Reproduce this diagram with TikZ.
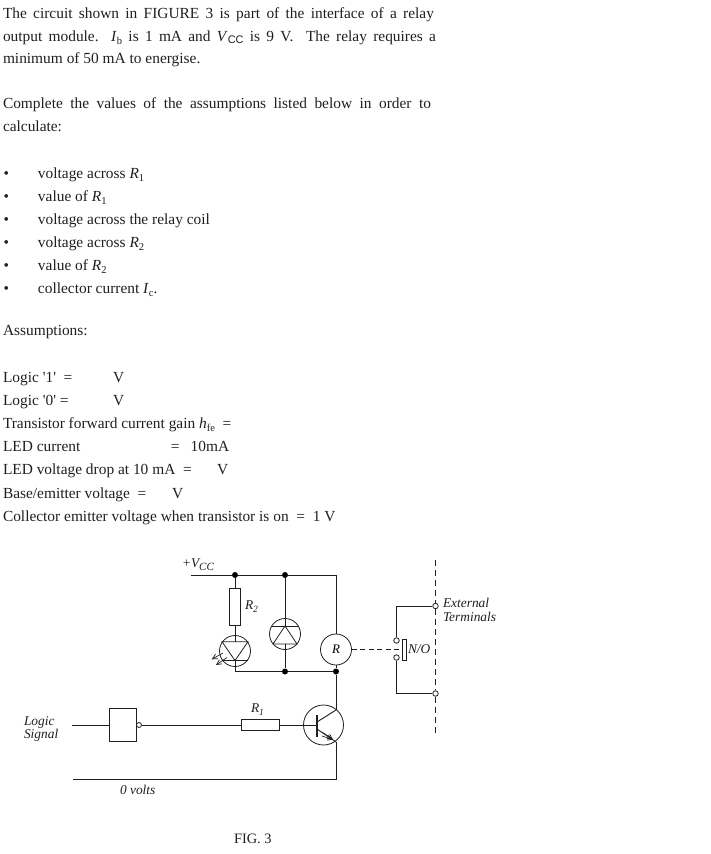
\documentclass[tikz,border=0pt]{standalone}
\usepackage{fontspec}
\setmainfont{Liberation Serif}
\newfontfamily\subsans{Liberation Sans}
\usetikzlibrary{arrows.meta}
\newcommand{\lowit}[2]{\textit{#1}\raisebox{-3pt}{\fontsize{10.5}{10.5}\selectfont #2}}
\newcommand{\lowsans}[2]{\textit{#1}\raisebox{-2.5pt}{\fontsize{11}{11}\selectfont\subsans #2}}
\newcommand{\fullline}[1]{\makebox[431pt][s]{#1}}
\newcommand{\bulletitem}[1]{\makebox[35pt][l]{\hspace{0.5pt}•}#1}
\definecolor{ink}{gray}{0.12}
\tikzset{
  x=1pt,y=-1pt,
  wire/.style={draw=ink,line width=0.9pt},
  txt/.style={anchor=base west,inner sep=0pt,outer sep=0pt,font=\fontsize{15.4}{18}\selectfont,text=ink},
  lab/.style={anchor=base west,inner sep=0pt,outer sep=0pt,font=\fontsize{13.4}{15}\selectfont\itshape,text=ink},
  dot/.style={circle,fill=black,inner sep=0pt,minimum size=6pt},
  term/.style={circle,draw=ink,fill=white,line width=0.8pt,inner sep=0pt,minimum size=5.5pt},
  resbox/.style={rectangle,draw=ink,fill=white,line width=0.9pt,inner sep=0pt},
  ring/.style={circle,draw=ink,line width=0.8pt,inner sep=0pt,minimum size=31pt},
  lightarrow/.style={draw=ink,line width=0.7pt,-{Straight Barb[length=5pt,width=5pt]}},
}
\begin{document}
\begin{tikzpicture}
\useasboundingbox (0,0) rectangle (710,854);
% text
\node[txt] (p1) at (3,18) {\fullline{The circuit shown in FIGURE 3 is part of the interface of a relay}};
\node[txt] (p2) at (3,41) {\makebox[433pt][s]{output module.\ \ \lowit{I}{b} is 1 mA and \lowsans{V}{CC} is 9 V.\ \ The relay requires a}};
\node[txt] (p3) at (3,63) {minimum of 50 mA to energise.};
\node[txt] (p4) at (3,108) {\makebox[428pt][s]{Complete the values of the assumptions listed below in order to}};
\node[txt] (p5) at (3,131) {calculate:};
\node[txt] (b1) at (3,178) {\bulletitem{voltage across \lowit{R}{1}}};
\node[txt] (b2) at (3,201) {\bulletitem{value of \lowit{R}{1}}};
\node[txt] (b3) at (3,224) {\bulletitem{voltage across the relay coil}};
\node[txt] (b4) at (3,247) {\bulletitem{voltage across \lowit{R}{2}}};
\node[txt] (b5) at (3,270) {\bulletitem{value of \lowit{R}{2}}};
\node[txt] (b6) at (3,293) {\bulletitem{collector current \lowit{I}{c}.}};
\node[txt] (a0) at (3,335) {Assumptions:};
\node[txt] (a1) at (3,382) {\makebox[110pt][l]{Logic \textquotesingle 1\textquotesingle\ \ =}V};
\node[txt] (a2) at (3,405) {\makebox[110pt][l]{Logic \textquotesingle 0\textquotesingle\ =}V};
\node[txt] (a3) at (3,428) {Transistor forward current gain \lowit{h}{fe}\ \ =};
\node[txt] (a4) at (3,451) {\makebox[168pt][l]{LED current}=\hspace{11pt}10mA};
\node[txt] (a5) at (3,474) {\makebox[214pt][l]{LED voltage drop at 10 mA\ \ =}V};
\node[txt] (a6) at (3,498) {\makebox[169pt][l]{Base/emitter voltage\ \ =}V};
\node[txt] (a7) at (3,521) {Collector emitter voltage when transistor is on\ \ =\ \ 1 V};
% junctions and components
\coordinate (vin) at (191,575);
\node[dot] (j1) at (235,575) {};
\node[dot] (j2) at (285,575) {};
\coordinate (tr) at (336,575);
\node[resbox,minimum width=11pt,minimum height=37pt] (r2) at (235,606.5) {};
\node[ring] (led) at (235,651) {};
\node[ring] (dio) at (285,634) {};
\node[ring] (rel) at (336,649.5) {\fontsize{13}{13}\selectfont\itshape R};
\node[dot] (j3) at (285,671.5) {};
\node[dot] (j4) at (336,671.5) {};
\coordinate (bl) at (235,671.5);
\node[ring,minimum size=40pt] (tra) at (323.5,725) {};
\coordinate (base) at (317,725);
\coordinate (coll) at (336,710);
\coordinate (emit) at (336,742);
\coordinate (gnd) at (336,779.5);
\coordinate (gndl) at (73,779.5);
\node[resbox,minimum width=38pt,minimum height=11.5pt] (r1) at (260.5,725) {};
\node[resbox,minimum width=27.5pt,minimum height=33.5pt] (gate) at (123,725) {};
\node[term,minimum size=5pt] (bub) at (139,725) {};
\coordinate (login) at (72,725);
% wires
\draw[wire] (vin) -- (j1) -- (j2) -- (tr) -- (rel.north);
\draw[wire] (j1) -- (r2.north);
\draw[wire] (r2.south) -- (235,641.7);
\draw[wire] (j2) -- (285,626);
\draw[wire] (285,644) -- (j3);
\draw[wire] (235,660.5) -- (bl) -- (j3) -- (j4);
\draw[wire] (rel.south) -- (j4) -- (coll);
\draw[wire] (emit) -- (gnd) -- (gndl);
\draw[wire] (login) -- (gate.west);
\draw[wire] (bub.east) -- (r1.west);
\draw[wire] (r1.east) -- (base);
% LED
\draw[wire,line width=0.8pt] (222,641.7) -- (248,641.7) -- (235,660.5) -- cycle;
\draw[wire,line width=0.8pt] (222,660.5) -- (248,660.5);
\draw[lightarrow] (223,653) -- (211.7,659.3);
\draw[lightarrow] (227,657.5) -- (216,665);
% diode
\draw[wire,line width=0.8pt] (272,626) -- (298,626);
\draw[wire,line width=0.8pt] (285,626) -- (273,644) -- (297,644) -- cycle;
% transistor
\draw[draw=ink,line width=2.6pt] (317,715) -- (317,737);
\draw[wire] (317,722) -- (coll);
\draw[wire] (317,729) -- (emit);
\draw[lightarrow] (322,732) -- (333,739.5);
\draw[lightarrow] (322,736) -- (333,739.5);
% relay contacts
\node[term] (t1) at (435.5,606) {};
\node[term] (t2) at (435.5,693.5) {};
\node[term] (c1) at (396.5,640.5) {};
\node[term] (c2) at (396.5,657.5) {};
\node[resbox,minimum width=4.5pt,minimum height=21pt] (sw) at (404.5,649.5) {};
\coordinate (tc) at (396.5,606);
\coordinate (bc) at (396.5,693.5);
\coordinate (dt) at (435.5,560);
\coordinate (db) at (435.5,733);
\draw[wire] (t1) -- (tc) -- (c1);
\draw[wire] (c2) -- (bc) -- (t2);
\draw[wire,dash pattern=on 5pt off 3.5pt] (rel.east) -- (sw.west);
\draw[wire,dash pattern=on 6pt off 4pt] (dt) -- (t1);
\draw[wire,dash pattern=on 6pt off 4pt] (t1) -- (t2);
\draw[wire,dash pattern=on 6pt off 4pt] (t2) -- (db);
% labels
\node[lab] (lvcc) at (182,567) {+\textit{V}\raisebox{-3pt}{\fontsize{11}{11}\selectfont CC}};
\node[lab] (lr2) at (245,609) {R\raisebox{-3pt}{\fontsize{9.5}{9.5}\selectfont 2}};
\node[lab] (lr1) at (251,712) {R\raisebox{-3pt}{\fontsize{9.5}{9.5}\selectfont 1}};
\node[lab] (lno) at (408,653.5) {N/O};
\node[lab] (lext) at (443,607) {External};
\node[lab] (lter) at (443,621) {Terminals};
\node[lab] (lsig1) at (24,725) {Logic};
\node[lab] (lsig2) at (24,738) {Signal};
\node[lab] (l0v) at (120,794) {0 volts};
\node[txt,font=\fontsize{14.4}{16}\selectfont] (fig) at (234,843) {FIG. 3};
\end{tikzpicture}
\end{document}
